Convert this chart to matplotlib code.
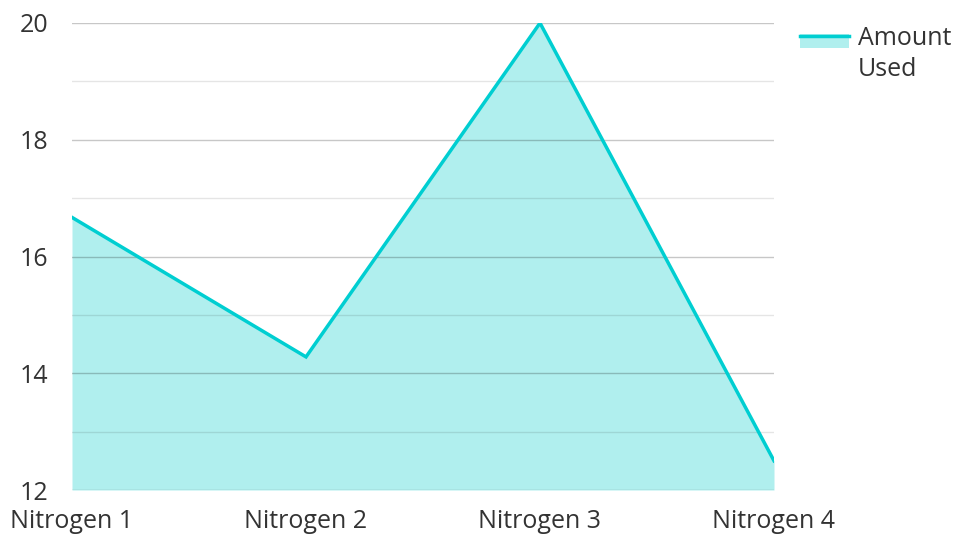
import matplotlib
matplotlib.use("Agg")
import matplotlib.pyplot as plt
from matplotlib.patches import Rectangle
from matplotlib.lines import Line2D

categories = ["Nitrogen 1", "Nitrogen 2", "Nitrogen 3", "Nitrogen 4"]
amount_used = [16.67, 14.28, 20.0, 12.5]
y_ticks = [12, 14, 16, 18, 20]
y_minor = [13, 15, 17, 19]
series_name = "Amount\nUsed"

LINE = "#00CED1"
FILL = "#B0EFEE"
TEXT = "#333333"
FS = 18

plt.rcParams['font.family'] = ['Open Sans', 'DejaVu Sans']

W, H = 956, 534
fig = plt.figure(figsize=(W/100, H/100), dpi=100)
ax = fig.add_axes([72/W, 1-490/H, 702/W, 467/H])

x = list(range(len(categories)))
ax.fill_between(x, amount_used, 12, color=FILL, lw=0, zorder=1)
ax.plot(x, amount_used, color=LINE, lw=2.5, zorder=3, solid_joinstyle='miter')

for v in y_ticks:
    ax.axhline(v, color="black", alpha=0.22, lw=1, zorder=2)
for v in y_minor:
    ax.axhline(v, color="black", alpha=0.1, lw=1, zorder=2)

ax.set_xlim(0, len(categories)-1)
ax.set_ylim(12, 20)
ax.set_yticks(y_ticks)
ax.set_xticks(x)
ax.set_xticklabels(categories)
ax.tick_params(axis='both', length=0, labelsize=FS, labelcolor=TEXT)
ax.tick_params(axis='y', pad=17)
ax.tick_params(axis='x', pad=14)
for s in ax.spines.values():
    s.set_visible(False)

# legend (drawn in figure pixel coordinates)
def fy(py):
    return 1 - py / H

fig.patches.append(Rectangle((800/W, fy(48)), 49/W, 14/H, facecolor=FILL,
                             edgecolor='none', transform=fig.transFigure, figure=fig))
fig.lines.append(Line2D([800/W, 849/W], [fy(35.5), fy(35.5)], color=LINE, lw=2.5,
                        transform=fig.transFigure, figure=fig))
fig.text(858/W, fy(75.5), series_name, fontsize=FS, color=TEXT, ha='left',
         va='baseline', linespacing=1.3)

fig.savefig("out.png", dpi=100)
